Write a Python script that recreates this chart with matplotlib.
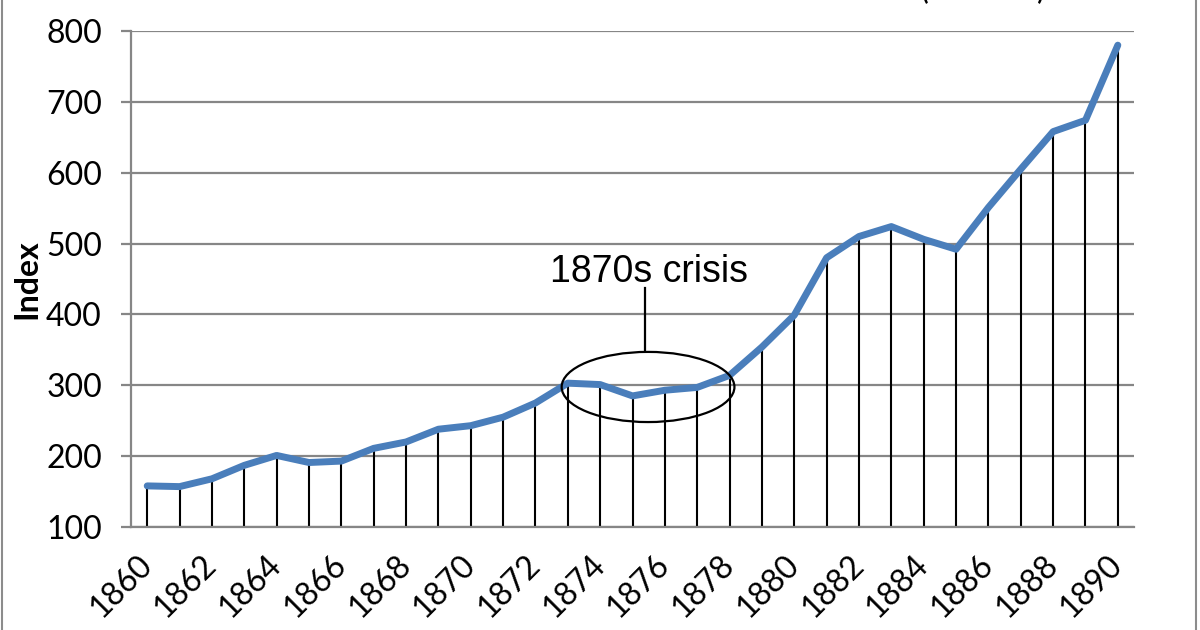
import matplotlib
matplotlib.use("Agg")
import matplotlib.pyplot as plt
from matplotlib.patches import Ellipse, Rectangle

years = list(range(1860, 1891))
index = [158, 157, 168, 187, 201, 191, 193, 211, 220, 238, 243,
         255, 275, 303, 301, 285, 293, 297, 314, 354, 399,
         480, 510, 524, 506, 492, 551, 605, 658, 674, 780]
yticks = [100, 200, 300, 400, 500, 600, 700, 800]
xticks = years[::2]

plt.rcParams['font.family'] = ['Lato', 'DejaVu Sans']

fig = plt.figure(figsize=(12, 6.3), dpi=100)
ax = fig.add_axes([0.1092, 0.1635, 0.8358, 0.7873])

grid_col = '#868686'
for y in yticks:
    ax.axhline(y, color=grid_col, lw=1.6, zorder=1)

ax.vlines(years, 100, index, color='black', lw=1.5, zorder=2)
ax.plot(years, index, color='#4A7EBB', lw=5, solid_capstyle='round',
        solid_joinstyle='round', zorder=3)

ax.set_xlim(1859.5, 1890.5)
ax.set_ylim(100, 800)
ax.set_yticks(yticks)
ax.set_xticks(xticks)
ax.set_xticklabels([str(x) for x in xticks], rotation=45, ha='right',
                   va='center', rotation_mode='anchor')
ax.tick_params(axis='y', length=7, width=1.6, color=grid_col, pad=14,
               labelsize=23)
ax.tick_params(axis='x', length=0, pad=24, labelsize=23)

for s in ['top', 'right']:
    ax.spines[s].set_visible(False)
ax.spines['left'].set_color(grid_col)
ax.spines['left'].set_linewidth(1.6)
ax.spines['bottom'].set_color(grid_col)
ax.spines['bottom'].set_linewidth(1.6)

ax.set_ylabel('Index', fontsize=23, fontweight='bold')
ax.yaxis.set_label_coords(-0.089, 0.5)

# crisis annotation
ax.add_patch(Ellipse((1875.48, 297.6), 5.34, 99, fill=False,
                     edgecolor='black', lw=1.6, zorder=4))
ax.plot([1875.4, 1875.4], [348, 437], color='black', lw=1.6, zorder=4)
ax.text(1875.52, 435, '1870s crisis', ha='center', va='bottom',
        fontsize=27, family=['Liberation Sans', 'DejaVu Sans'], zorder=5)

# title cut off at the top of the picture
fig.text(0.819, 1.0, '(1913=100)', ha='center', va='baseline',
         fontsize=17, fontweight='bold')

fig.patches.append(Rectangle((0.002, -0.01), 0.995, 1.02,
                             transform=fig.transFigure, fill=False,
                             edgecolor='#8c8c8c', lw=1.5))

fig.savefig('out.png', dpi=100)
